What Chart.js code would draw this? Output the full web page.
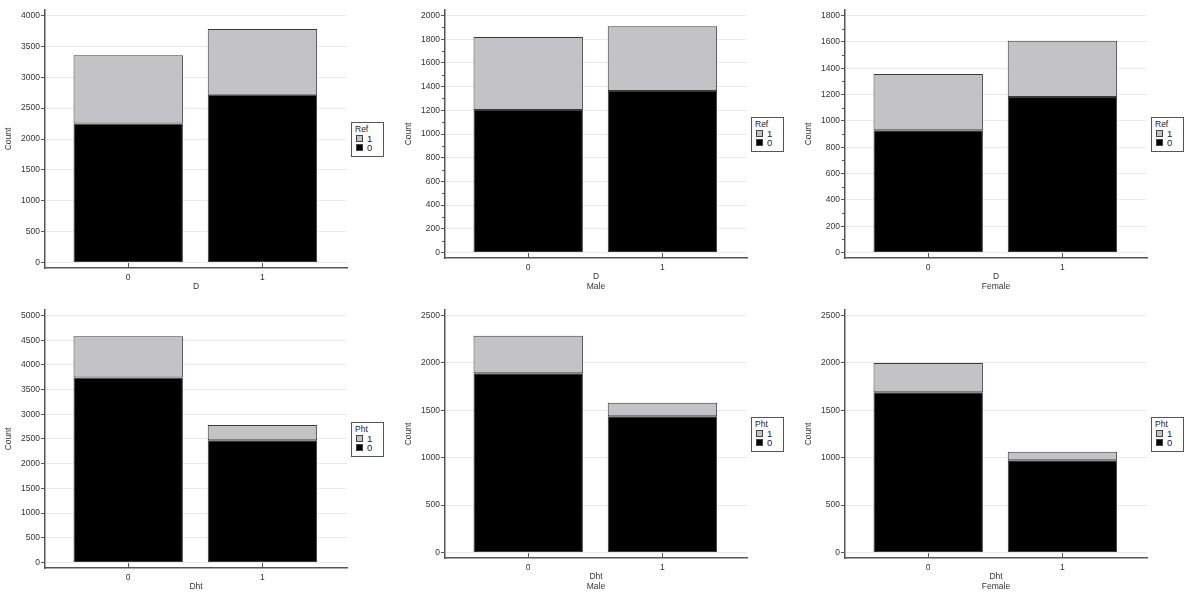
<!DOCTYPE html>
<html>
<head>
<meta charset="utf-8">
<script src="https://cdn.jsdelivr.net/npm/chart.js@4.4.1/dist/chart.umd.min.js"></script>
<style>
  body { margin: 0; background: #fff; }
  #wrap { position: relative; width: 1200px; height: 600px; }
  .panel { position: absolute; width: 400px; height: 300px; }
  .lg {
    position: absolute; width: 33px; height: 35px; box-sizing: border-box;
    border: 1px solid #555; padding: 2px 3px; background: #fff;
    font: 8.5px "Liberation Sans", Arial, sans-serif; line-height: 9px; color: #222;
  }
  .lg .le { font-size: 9.5px; }
  .sw { display: inline-block; width: 5px; height: 5px; border: 1px solid #444; margin: 0 4px 0 1px; vertical-align: 0; }
</style>
</head>
<body>
<div id="wrap"></div>
<script>
//data
const cats = [0, 1];
const xTitles = [['D'], ['D', 'Male'], ['D', 'Female'], ['Dht'], ['Dht', 'Male'], ['Dht', 'Female']];
const groupNames = ['Ref', 'Ref', 'Ref', 'Pht', 'Pht', 'Pht'];
const zeroCounts = [[2250, 2715], [1202, 1363], [928, 1181], [3744, 2473], [1890, 1437], [1690, 973]];
const oneCounts = [[1108, 1066], [616, 547], [427, 427], [837, 311], [396, 143], [310, 91]];
const yTop = [4000, 2000, 1800, 5000, 2500, 2500];
const yStep = [500, 200, 200, 500, 500, 500];
const yMinor = [0, 100, 100, 0, 0, 0];

const FONT = '"Liberation Sans", Arial, sans-serif';
const GRAY = '#c3c2c6';

// small tick marks the library does not draw: minor y ticks and inward x ticks
const tickPlugin = {
    id: 'extraTicks',
    afterDraw(chart, args, opts) {
        const ctx = chart.ctx;
        const area = chart.chartArea;
        const y = chart.scales.y;
        const x = chart.scales.x;
        ctx.save();
        ctx.strokeStyle = '#555';
        ctx.lineWidth = 1;
        if (opts.minor) {
            for (let v = opts.minor; v < opts.top; v += opts.minor) {
                if (v % opts.step === 0) continue;
                const py = Math.round(y.getPixelForValue(v)) + 0.5;
                ctx.beginPath();
                ctx.moveTo(area.left - 3, py);
                ctx.lineTo(area.left, py);
                ctx.stroke();
            }
        }
        cats.forEach(c => {
            const px = Math.round(x.getPixelForValue(c)) + 0.5;
            ctx.beginPath();
            ctx.moveTo(px, area.bottom);
            ctx.lineTo(px, area.bottom - 5);
            ctx.stroke();
        });
        ctx.restore();
    }
};

function makePanel(i) {
    const wrap = document.getElementById('wrap');
    const left = (i % 3) * 400;
    const top = Math.floor(i / 3) * 300;

    const div = document.createElement('div');
    div.className = 'panel';
    div.style.left = left + 'px';
    div.style.top = top + 'px';
    const canvas = document.createElement('canvas');
    canvas.width = 400;
    canvas.height = 300;
    div.appendChild(canvas);
    wrap.appendChild(div);

    const xh = xTitles[i].length > 1 ? 42 : 32;
    const areaH = 300 - 10 - xh;
    const pad = yTop[i] * 5.5 / (areaH - 11);

    const chart = new Chart(canvas.getContext('2d'), {
        type: 'bar',
        data: {
            datasets: [
                {
                    label: '0',
                    data: cats.map((c, k) => ({ x: c, y: zeroCounts[i][k] })),
                    backgroundColor: '#000',
                    borderColor: '#3a3a3a',
                    borderWidth: 1,
                    borderSkipped: false
                },
                {
                    label: '1',
                    data: cats.map((c, k) => ({ x: c, y: oneCounts[i][k] })),
                    backgroundColor: GRAY,
                    borderColor: '#3a3a3a',
                    borderWidth: 1,
                    borderSkipped: false
                }
            ]
        },
        options: {
            responsive: false, animation: false,
            layout: { padding: { top: 10, right: 53, bottom: 0, left: 0 } },
            datasets: { bar: { barPercentage: 0.815, categoryPercentage: 1 } },
            plugins: {
                legend: { display: false },
                tooltip: { enabled: false },
                extraTicks: { minor: yMinor[i], step: yStep[i], top: yTop[i] }
            },
            scales: {
                x: {
                    type: 'linear', stacked: true, offset: false, min: -0.62, max: 1.63,
                    afterBuildTicks: s => { s.ticks = cats.map(c => ({ value: c })); },
                    afterFit: s => { s.height = xh; },
                    grid: { display: false, drawTicks: false, offset: false },
                    border: { display: true, color: '#555', width: 1.5 },
                    ticks: { padding: 5, color: '#333', font: { family: FONT, size: 8.5 }, callback: v => String(v) },
                    title: {
                        display: true, text: xTitles[i], color: '#333',
                        font: { family: FONT, size: 8.5, lineHeight: '10px' },
                        padding: { top: 0, bottom: 8 }
                    }
                },
                y: {
                    stacked: true, min: -pad, max: yTop[i] + pad,
                    afterBuildTicks: s => {
                        const t = [];
                        for (let v = 0; v <= yTop[i]; v += yStep[i]) t.push({ value: v });
                        s.ticks = t;
                    },
                    afterFit: s => { s.width = 45; },
                    grid: { color: '#e9e9e9', tickColor: '#555', tickLength: 4, lineWidth: 1 },
                    border: { display: true, color: '#555', width: 1.5 },
                    ticks: { padding: 1, color: '#333', font: { family: FONT, size: 8.5 }, callback: v => String(v) },
                    title: {
                        display: true, text: 'Count', color: '#333',
                        font: { family: FONT, size: 8.5 },
                        padding: { top: 4, bottom: 0 }
                    }
                }
            }
        },
        plugins: [tickPlugin]
    });

    const area = chart.chartArea;
    const lg = document.createElement('div');
    lg.className = 'lg';
    lg.style.left = (left + 351) + 'px';
    lg.style.top = (top + (area.top + area.bottom) / 2 - 17) + 'px';
    lg.innerHTML = '<div>' + groupNames[i] + '</div>' +
        '<div class="le"><span class="sw" style="background:' + GRAY + '"></span>1</div>' +
        '<div class="le"><span class="sw" style="background:#000"></span>0</div>';
    wrap.appendChild(lg);
}

function main() {
    for (let i = 0; i < 6; i++) makePanel(i);
}

main();
</script>
</body>
</html>
